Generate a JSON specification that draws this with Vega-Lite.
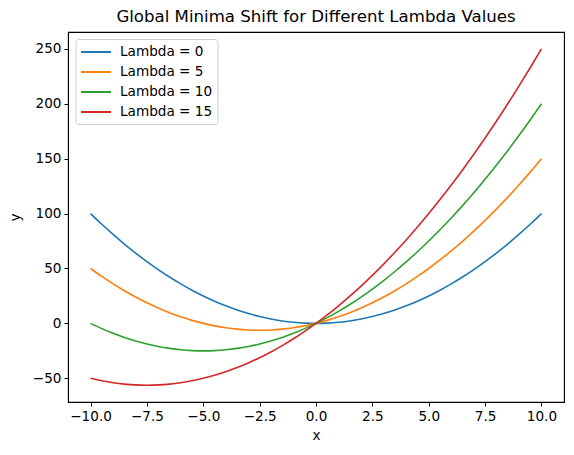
{
  "$schema": "https://vega.github.io/schema/vega-lite/v6.json",
  "width": 496,
  "height": 370,
  "autosize": "none",
  "padding": {"left": 68, "top": 32, "right": 10, "bottom": 53},
  "background": "white",
  "title": {
    "text": "Global Minima Shift for Different Lambda Values",
    "font": "DejaVu Sans",
    "fontSize": 16.6,
    "fontWeight": "normal",
    "color": "black",
    "anchor": "middle",
    "offset": 6
  },
  "config": {
    "view": {"stroke": "black", "strokeWidth": 1.1},
    "axis": {
      "labelFont": "DejaVu Sans",
      "titleFont": "DejaVu Sans",
      "labelFontSize": 13.6,
      "titleFontSize": 13.6,
      "titleFontWeight": "normal",
      "labelColor": "black",
      "titleColor": "black",
      "domainColor": "black",
      "tickColor": "black",
      "tickSize": 4,
      "labelPadding": 3,
      "grid": false
    }
  },
  "data": {
    "values": [
      {"x": -10, "Lambda = 0": 100, "Lambda = 5": 50, "Lambda = 10": 0, "Lambda = 15": -50},
      {"x": -9.5, "Lambda = 0": 90.25, "Lambda = 5": 42.75, "Lambda = 10": -4.75, "Lambda = 15": -52.25},
      {"x": -9, "Lambda = 0": 81, "Lambda = 5": 36, "Lambda = 10": -9, "Lambda = 15": -54},
      {"x": -8.5, "Lambda = 0": 72.25, "Lambda = 5": 29.75, "Lambda = 10": -12.75, "Lambda = 15": -55.25},
      {"x": -8, "Lambda = 0": 64, "Lambda = 5": 24, "Lambda = 10": -16, "Lambda = 15": -56},
      {"x": -7.5, "Lambda = 0": 56.25, "Lambda = 5": 18.75, "Lambda = 10": -18.75, "Lambda = 15": -56.25},
      {"x": -7, "Lambda = 0": 49, "Lambda = 5": 14, "Lambda = 10": -21, "Lambda = 15": -56},
      {"x": -6.5, "Lambda = 0": 42.25, "Lambda = 5": 9.75, "Lambda = 10": -22.75, "Lambda = 15": -55.25},
      {"x": -6, "Lambda = 0": 36, "Lambda = 5": 6, "Lambda = 10": -24, "Lambda = 15": -54},
      {"x": -5.5, "Lambda = 0": 30.25, "Lambda = 5": 2.75, "Lambda = 10": -24.75, "Lambda = 15": -52.25},
      {"x": -5, "Lambda = 0": 25, "Lambda = 5": 0, "Lambda = 10": -25, "Lambda = 15": -50},
      {"x": -4.5, "Lambda = 0": 20.25, "Lambda = 5": -2.25, "Lambda = 10": -24.75, "Lambda = 15": -47.25},
      {"x": -4, "Lambda = 0": 16, "Lambda = 5": -4, "Lambda = 10": -24, "Lambda = 15": -44},
      {"x": -3.5, "Lambda = 0": 12.25, "Lambda = 5": -5.25, "Lambda = 10": -22.75, "Lambda = 15": -40.25},
      {"x": -3, "Lambda = 0": 9, "Lambda = 5": -6, "Lambda = 10": -21, "Lambda = 15": -36},
      {"x": -2.5, "Lambda = 0": 6.25, "Lambda = 5": -6.25, "Lambda = 10": -18.75, "Lambda = 15": -31.25},
      {"x": -2, "Lambda = 0": 4, "Lambda = 5": -6, "Lambda = 10": -16, "Lambda = 15": -26},
      {"x": -1.5, "Lambda = 0": 2.25, "Lambda = 5": -5.25, "Lambda = 10": -12.75, "Lambda = 15": -20.25},
      {"x": -1, "Lambda = 0": 1, "Lambda = 5": -4, "Lambda = 10": -9, "Lambda = 15": -14},
      {"x": -0.5, "Lambda = 0": 0.25, "Lambda = 5": -2.25, "Lambda = 10": -4.75, "Lambda = 15": -7.25},
      {"x": 0, "Lambda = 0": 0, "Lambda = 5": 0, "Lambda = 10": 0, "Lambda = 15": 0},
      {"x": 0.5, "Lambda = 0": 0.25, "Lambda = 5": 2.75, "Lambda = 10": 5.25, "Lambda = 15": 7.75},
      {"x": 1, "Lambda = 0": 1, "Lambda = 5": 6, "Lambda = 10": 11, "Lambda = 15": 16},
      {"x": 1.5, "Lambda = 0": 2.25, "Lambda = 5": 9.75, "Lambda = 10": 17.25, "Lambda = 15": 24.75},
      {"x": 2, "Lambda = 0": 4, "Lambda = 5": 14, "Lambda = 10": 24, "Lambda = 15": 34},
      {"x": 2.5, "Lambda = 0": 6.25, "Lambda = 5": 18.75, "Lambda = 10": 31.25, "Lambda = 15": 43.75},
      {"x": 3, "Lambda = 0": 9, "Lambda = 5": 24, "Lambda = 10": 39, "Lambda = 15": 54},
      {"x": 3.5, "Lambda = 0": 12.25, "Lambda = 5": 29.75, "Lambda = 10": 47.25, "Lambda = 15": 64.75},
      {"x": 4, "Lambda = 0": 16, "Lambda = 5": 36, "Lambda = 10": 56, "Lambda = 15": 76},
      {"x": 4.5, "Lambda = 0": 20.25, "Lambda = 5": 42.75, "Lambda = 10": 65.25, "Lambda = 15": 87.75},
      {"x": 5, "Lambda = 0": 25, "Lambda = 5": 50, "Lambda = 10": 75, "Lambda = 15": 100},
      {"x": 5.5, "Lambda = 0": 30.25, "Lambda = 5": 57.75, "Lambda = 10": 85.25, "Lambda = 15": 112.75},
      {"x": 6, "Lambda = 0": 36, "Lambda = 5": 66, "Lambda = 10": 96, "Lambda = 15": 126},
      {"x": 6.5, "Lambda = 0": 42.25, "Lambda = 5": 74.75, "Lambda = 10": 107.25, "Lambda = 15": 139.75},
      {"x": 7, "Lambda = 0": 49, "Lambda = 5": 84, "Lambda = 10": 119, "Lambda = 15": 154},
      {"x": 7.5, "Lambda = 0": 56.25, "Lambda = 5": 93.75, "Lambda = 10": 131.25, "Lambda = 15": 168.75},
      {"x": 8, "Lambda = 0": 64, "Lambda = 5": 104, "Lambda = 10": 144, "Lambda = 15": 184},
      {"x": 8.5, "Lambda = 0": 72.25, "Lambda = 5": 114.75, "Lambda = 10": 157.25, "Lambda = 15": 199.75},
      {"x": 9, "Lambda = 0": 81, "Lambda = 5": 126, "Lambda = 10": 171, "Lambda = 15": 216},
      {"x": 9.5, "Lambda = 0": 90.25, "Lambda = 5": 137.75, "Lambda = 10": 185.25, "Lambda = 15": 232.75},
      {"x": 10, "Lambda = 0": 100, "Lambda = 5": 150, "Lambda = 10": 200, "Lambda = 15": 250}
    ]
  },
  "transform": [
    {"fold": ["Lambda = 0", "Lambda = 5", "Lambda = 10", "Lambda = 15"], "as": ["series", "y"]}
  ],
  "mark": {"type": "line", "strokeWidth": 1.6, "interpolate": "monotone"},
  "encoding": {
    "x": {
      "field": "x",
      "type": "quantitative",
      "title": "x",
      "scale": {"domain": [-11, 11], "nice": false, "zero": false},
      "axis": {
        "values": [-10, -7.5, -5, -2.5, 0, 2.5, 5, 7.5, 10],
        "format": ".1f",
        "labelExpr": "replace(datum.label, '-', '−')",
        "titlePadding": 6
      }
    },
    "y": {
      "field": "y",
      "type": "quantitative",
      "title": "y",
      "scale": {"domain": [-71.56, 265.31], "nice": false, "zero": false},
      "axis": {
        "values": [-50, 0, 50, 100, 150, 200, 250],
        "labelExpr": "replace(datum.label, '-', '−')",
        "titlePadding": 10
      }
    },
    "color": {
      "field": "series",
      "type": "nominal",
      "sort": ["Lambda = 0", "Lambda = 5", "Lambda = 10", "Lambda = 15"],
      "scale": {
        "domain": ["Lambda = 0", "Lambda = 5", "Lambda = 10", "Lambda = 15"],
        "range": ["#1f77b4", "#ff7f0e", "#2ca02c", "#d62728"]
      },
      "legend": {
        "title": null,
        "orient": "none",
        "legendX": 7.5,
        "legendY": 7,
        "symbolType": "M-1,0L3,0",
        "symbolSize": 225,
        "symbolStrokeWidth": 2,
        "labelFont": "DejaVu Sans",
        "labelFontSize": 13.6,
        "labelColor": "black",
        "labelOffset": 23,
        "rowPadding": 4,
        "padding": 4.5,
        "fillColor": "white",
        "strokeColor": "#cccccc",
        "cornerRadius": 3
      }
    }
  }
}
